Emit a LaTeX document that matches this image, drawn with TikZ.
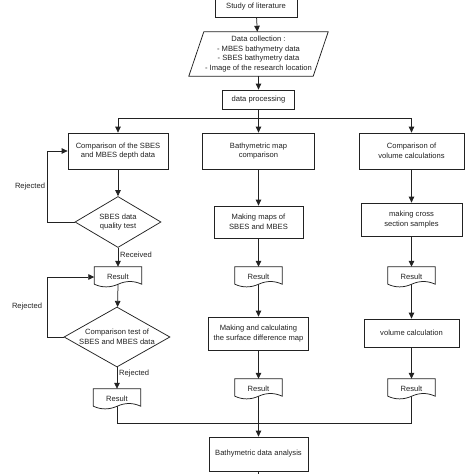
\documentclass[tikz,border=0pt]{standalone}
\usepackage{fontspec}
\setmainfont{Liberation Sans}
\usetikzlibrary{arrows.meta,shapes.geometric,calc}
\definecolor{ln}{HTML}{222222}
\definecolor{tx}{HTML}{222222}
\tikzset{
  box/.style={draw=ln, line width=0.75pt, rectangle, align=center, inner sep=1pt, text=tx, font=\fontsize{7.6}{9.6}\selectfont},
  plain/.style={rectangle, align=center, inner sep=1pt, text=tx, font=\fontsize{7.6}{9.4}\selectfont},
  dia/.style={draw=ln, line width=0.75pt, diamond, align=center, inner sep=0pt, text=tx, font=\fontsize{7.6}{9.6}\selectfont},
  docnode/.style={rectangle, align=center, inner sep=1pt, text=tx, minimum width=47pt, minimum height=20pt, font=\fontsize{7.6}{9.6}\selectfont},
  docline/.style={draw=ln, line width=0.75pt, fill=white},
  conn/.style={draw=ln, line width=0.75pt},
  arr/.style={conn, -{Triangle[width=5.5pt,length=6pt]}},
  lbl/.style={text=tx, font=\fontsize{7.6}{9.6}\selectfont, inner sep=0pt}
}
\newcommand\docshape[1]{%
  \draw[docline] (#1.north west) -- (#1.north east) -- ([yshift=3pt]#1.south east)
    .. controls ([xshift=-7.8pt,yshift=6.6pt]#1.south east) and ([xshift=-15.7pt,yshift=6.6pt]#1.south east) .. ([xshift=-23.5pt,yshift=3pt]#1.south east)
    .. controls ([xshift=15.7pt,yshift=-0.6pt]#1.south west) and ([xshift=7.8pt,yshift=-0.6pt]#1.south west) .. ([yshift=3pt]#1.south west) -- cycle;
  \node[docnode] at (#1) {Result};}
\begin{document}
\begin{tikzpicture}[x=1pt,y=-1pt]
\useasboundingbox[fill=white] (0,0) rectangle (474,474);

% top chain
\node[box, minimum width=82pt, minimum height=20pt] (lit) at (256,7) {Study of literature};
\node[plain, minimum width=124pt, minimum height=44pt] (coll) at (258.5,54)
  {Data collection :\\- MBES bathymetry data\\- SBES bathymetry data\\- Image of the research location};
\draw[conn] ([xshift=7.5pt]coll.north west) -- ([xshift=7.5pt]coll.north east)
  -- ([xshift=-7.5pt]coll.south east) -- ([xshift=-7.5pt]coll.south west) -- cycle;
\node[box, minimum width=72pt, minimum height=19pt] (proc) at (258.5,99.5) {data processing};
\coordinate (sp) at (258.5,118);

% column 1
\node[box, minimum width=100pt, minimum height=36pt] (cmp1) at (118,151) {Comparison of the SBES\\and MBES depth data};
\node[dia, minimum width=86pt, minimum height=51pt, aspect=1.7] (dia1) at (118,222) {SBES data\\quality test};
\node[docnode] (res1) at (118,277) {};
\node[dia, minimum width=106pt, minimum height=60pt, aspect=1.77] (dia2) at (117,337) {Comparison test of\\SBES and MBES data};
\node[docnode] (res2) at (117,399) {};

% column 2
\node[box, minimum width=112pt, minimum height=36pt] (cmp2) at (258.5,151) {Bathymetric map\\comparison};
\node[box, minimum width=89pt, minimum height=32pt] (maps) at (258.5,222) {Making maps of\\SBES and MBES};
\node[docnode] (res3) at (258.5,277) {};
\node[box, minimum width=100pt, minimum height=33pt] (surf) at (258.5,333.5) {Making and calculating\\the surface difference map};
\node[docnode] (res4) at (258.5,389) {};
\node[box, minimum width=99pt, minimum height=34pt] (bda) at (258.5,454) {Bathymetric data analysis};
\coordinate (join) at (258.5,423);
\coordinate (bottom) at (258.5,480);

% column 3
\node[box, minimum width=105pt, minimum height=36pt] (cmp3) at (411.5,151) {Comparison of\\volume calculations};
\node[box, minimum width=101pt, minimum height=33pt] (cross) at (411.5,219.5) {making cross\\section samples};
\node[docnode] (res5) at (411.5,277) {};
\node[box, minimum width=95pt, minimum height=28pt] (vol) at (411.5,333) {volume calculation};
\node[docnode] (res6) at (411.5,389) {};

% connectors
\draw[arr] (lit) -- (coll);
\draw[arr] (coll) -- (proc);
\draw[arr] (proc) -- (cmp2);
\draw[arr] (sp) -| (cmp1);
\draw[arr] (sp) -| (cmp3);

\draw[arr] (cmp1) -- (dia1);
\draw[arr] (dia1) -- (res1);
\draw[arr] (dia1.west) -- ++(-27,0) |- (cmp1.west);
\draw[arr] ([yshift=3pt]res1.south) -- (dia2);
\draw[arr] (dia2) -- (res2);
\draw[arr] (dia2.west) -- ++(-16,0) |- (res1.west);
\draw[conn] ([yshift=3pt]res2.south) |- (join);

\draw[arr] (cmp2) -- (maps);
\draw[arr] (maps) -- (res3);
\draw[arr] ([yshift=3pt]res3.south) -- (surf);
\draw[arr] (surf) -- (res4);
\draw[arr] ([yshift=3pt]res4.south) -- (bda);
\draw[conn] (bda) -- (bottom);

\draw[arr] (cmp3) -- (cross);
\draw[arr] (cross) -- (res5);
\draw[arr] ([yshift=3pt]res5.south) -- (vol);
\draw[arr] (vol) -- (res6);
\draw[conn] ([yshift=3pt]res6.south) |- (join);

% document shapes
\docshape{res1}
\docshape{res2}
\docshape{res3}
\docshape{res4}
\docshape{res5}
\docshape{res6}

% labels
\node[lbl] (rej1) at (30,187) {Rejected};
\node[lbl, anchor=west] (rec) at (120,255) {Received};
\node[lbl] (rej2) at (27,307) {Rejected};
\node[lbl, anchor=west] (rej3) at (119,374) {Rejected};
\end{tikzpicture}
\end{document}
